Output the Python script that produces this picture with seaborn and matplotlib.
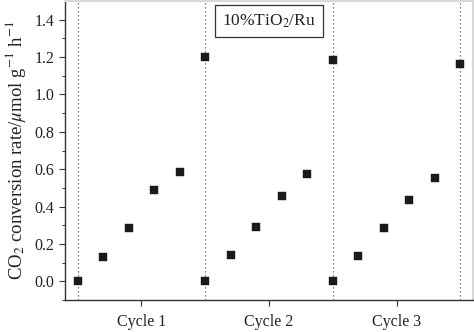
import matplotlib
matplotlib.use("Agg")
import matplotlib.pyplot as plt
import seaborn as sns
import pandas as pd

cycles = ["Cycle 1", "Cycle 2", "Cycle 3"]
cycle1_rate = [0.0, 0.133, 0.286, 0.488, 0.587, 1.202]
cycle2_rate = [0.0, 0.142, 0.293, 0.457, 0.577, 1.183]
cycle3_rate = [0.0, 0.135, 0.284, 0.436, 0.553, 1.163]
step_in_cycle = [0, 1, 2, 3, 4, 5]
y_ticks = [0.0, 0.2, 0.4, 0.6, 0.8, 1.0, 1.2, 1.4]

rows = []
for ci, rates in enumerate([cycle1_rate, cycle2_rate, cycle3_rate]):
    for s, r in zip(step_in_cycle, rates):
        rows.append({"pos": ci * 5 + s, "rate": r, "cycle": cycles[ci]})
df = pd.DataFrame(rows)

sns.set_theme(style="ticks")
plt.rcParams["font.family"] = ["Liberation Serif", "DejaVu Serif"]
plt.rcParams["mathtext.fontset"] = "stix"

fig = plt.figure(figsize=(4.74, 3.32), dpi=100)
ax = fig.add_axes([0.137, 0.096, 0.861, 0.901])

for b in [0, 5, 10, 15]:
    ax.axvline(b, color="#555555", linestyle=(0, (1, 2.2)), linewidth=0.9, zorder=1)

sns.scatterplot(data=df, x="pos", y="rate", marker="s", s=28, color="#1a1a1a",
                edgecolor="#1a1a1a", linewidth=0.3, ax=ax, zorder=3, legend=False)

ax.set_xlim(-0.5, 15.5)
ax.set_ylim(-0.1, 1.5)
ax.set_yticks(y_ticks)
ax.set_yticklabels([f"{v:.1f}" for v in y_ticks])
ax.set_yticks([0.1 * i - 0.1 for i in range(16)], minor=True)
ax.set_xticks([2.5, 7.5, 12.5])
ax.set_xticklabels(cycles)
ax.set_xlabel("")
ax.set_ylabel(r"CO$_2$ conversion rate/$\mu$mol g$^{-1}$ h$^{-1}$", fontsize=13.5,
              color="#222222", labelpad=5)

ax.tick_params(axis="both", which="major", direction="out", length=4, width=0.8,
               labelsize=11.5, colors="#333333", labelcolor="#222222")
ax.tick_params(axis="y", which="minor", direction="out", length=2.5, width=0.7, colors="#333333")
ax.tick_params(axis="x", which="major", pad=6)

for side in ["left", "bottom"]:
    ax.spines[side].set_color("#333333")
    ax.spines[side].set_linewidth(1.0)
for side in ["top", "right"]:
    ax.spines[side].set_visible(True)
    ax.spines[side].set_color("#d8d8d8")
    ax.spines[side].set_linewidth(1.5)

ax.text(7.5, 1.393, r"10%TiO$_2$/Ru", ha="center", va="center", fontsize=12.5, color="#222222",
        bbox=dict(boxstyle="square,pad=0.42", facecolor="white", edgecolor="#333333", linewidth=0.9),
        zorder=4)

fig.savefig("out.png", dpi=100)
